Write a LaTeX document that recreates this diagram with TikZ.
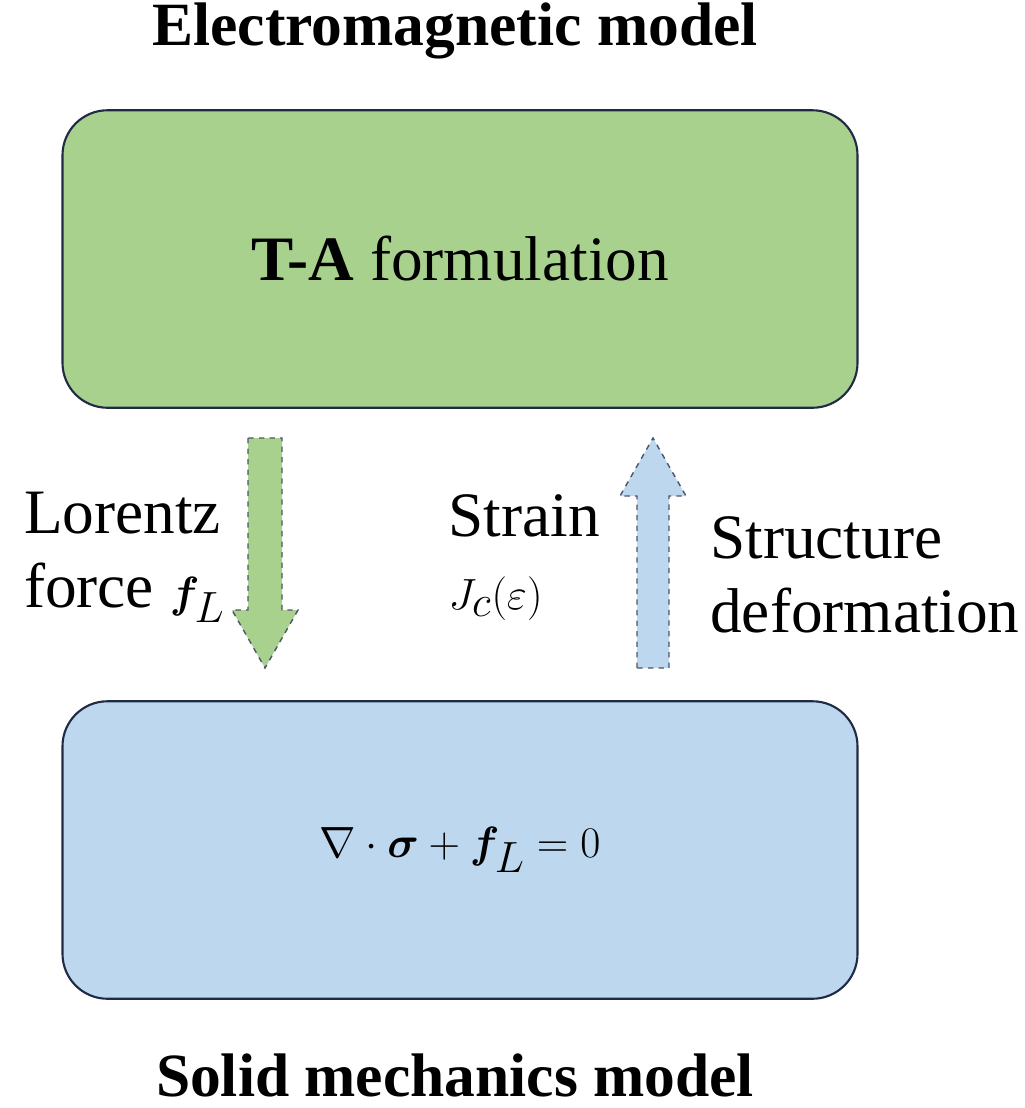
\documentclass[tikz,border=0pt]{standalone}
\usepackage{fontspec}
\setmainfont{Liberation Serif}
\usepackage{amsmath,bm}
\usetikzlibrary{positioning,calc}
\definecolor{emgreen}{HTML}{A9D18E}
\definecolor{smblue}{HTML}{BDD7EE}
\definecolor{edge}{HTML}{1F2A44}
\begin{document}
\begin{tikzpicture}[
  box/.style={draw=edge, line width=1.2pt, rounded corners=0.9cm, minimum width=15.9cm, minimum height=5.95cm, font=\fontsize{36}{43}\selectfont},
  title/.style={font=\fontsize{35}{42}\selectfont\bfseries},
  lbl/.style={font=\fontsize{36}{42}\selectfont, align=left, inner sep=0pt},
  flow/.style={draw=edge!80, dashed, line width=0.8pt},
]
\useasboundingbox (0,0) rectangle (20.5,-22.16);

% Models
\node[box, fill=emgreen] (em) at (9.2,-5.18) {\textbf{T-A} formulation};
\node[box, fill=smblue] (sm) at (9.2,-17.0) {$\nabla\cdot\bm{\sigma}+\bm{f}_L=0$};
\node[title] (emtitle) at (9.1,-0.62) {Electromagnetic model};
\node[title] (smtitle) at (9.1,-21.5) {Solid mechanics model};

% Coupling arrows
\coordinate (dn) at (5.3,-8.76);
\coordinate (up) at (13.06,-8.76);
\draw[flow, fill=emgreen] ($(dn)+(-0.34,0)$) -- ++(0,-3.44) -- ++(-0.32,0)
  -- ($(dn)+(0,-4.6)$) -- ($(dn)+(0.66,-3.44)$) -- ++(-0.32,0) -- ($(dn)+(0.34,0)$) -- cycle;
\draw[flow, fill=smblue] ($(up)+(-0.32,-4.6)$) -- ++(0,3.44) -- ++(-0.34,0)
  -- (up) -- ($(up)+(0.66,-1.16)$) -- ++(-0.34,0) -- ($(up)+(0.32,-4.6)$) -- cycle;

% Labels
\node[lbl, anchor=east] (lorentz) at (4.5,-11.15) {Lorentz\\force $\bm{f}_L$};
\node[lbl, anchor=east] (strain) at (12.0,-11.15) {Strain\\$J_c(\varepsilon)$};
\node[lbl, anchor=west] (deform) at (14.2,-11.5) {Structure\\deformation};
\end{tikzpicture}
\end{document}
